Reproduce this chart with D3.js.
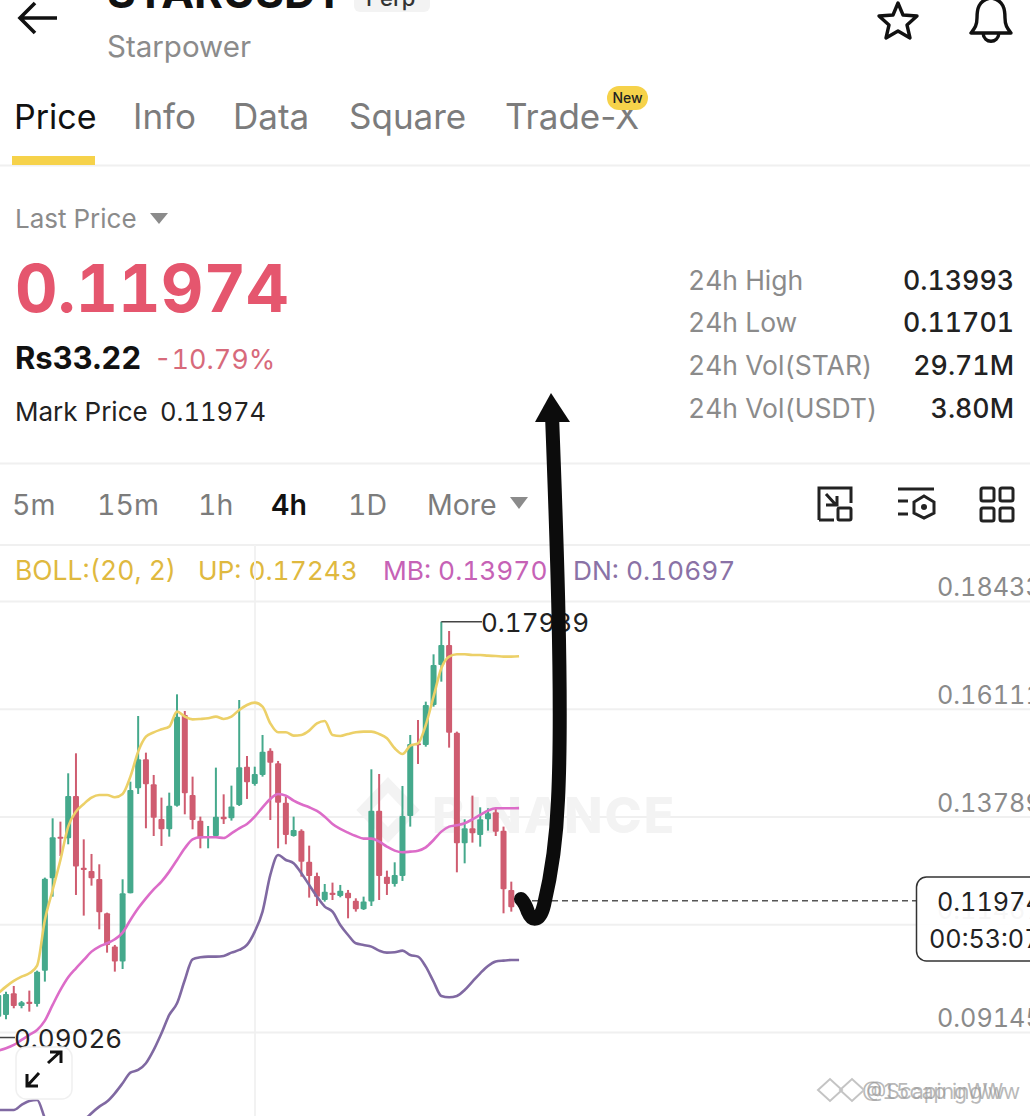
<!DOCTYPE html>
<html>
<head>
<meta charset="utf-8">
<script src="https://cdn.jsdelivr.net/npm/d3@7"></script>
<style>
html, body { margin: 0; padding: 0; background: #fff; overflow: hidden; }
svg { display: block; font-family: Inter, "Open Sans", sans-serif; font-feature-settings: "tnum" 1; font-variant-numeric: tabular-nums; }
</style>
</head>
<body>
<div id="main"></div>
<script>
// 4h candles, first entry is the one cut off by the left edge
var opens = [.09476,.09512,.09979,.09706,.09799,.09749,.10467,.12457,.13355,.13319,.14231,.12687,.12615,.12443,.11703,.10985,.10662,.12134,.14397,.15021,.14483,.13736,.13513,.14023,.15977,.14253,.13700,.13341,.13369,.13786,.13750,.14037,.14863,.14490,.14684,.15208,.14935,.14088,.13369,.13484,.12816,.12507,.11990,.12148,.12077,.12148,.11976,.11789,.11955,.13915,.12493,.12335,.12507,.13800,.15366,.15330,.16192,.17054,.17485,.15596,.13211,.13535,.13391,.13729,.13879,.13484,.12206];
var closes = [.09943,.09965,.09706,.09785,.09749,.10446,.12450,.13341,.13312,.14231,.12709,.12637,.12457,.11725,.11021,.10662,.12134,.14361,.15021,.14483,.13764,.13513,.14023,.15941,.14289,.13714,.13319,.13369,.13786,.13729,.14002,.14849,.14526,.14705,.15187,.14950,.14088,.13391,.13499,.12816,.12507,.12062,.12170,.12098,.12191,.12026,.11789,.11955,.13915,.12507,.12335,.12529,.13800,.15352,.15330,.16192,.17054,.17485,.15596,.13211,.13535,.13427,.13729,.13858,.13463,.12220,.11833];
var highs = [.10051,.10015,.10137,.09814,.10037,.10467,.12472,.13750,.13678,.14720,.15151,.13297,.12982,.12759,.11717,.11021,.12436,.14540,.15955,.15165,.14684,.14196,.14303,.16422,.16063,.14648,.13786,.13585,.14842,.14267,.14454,.16300,.15093,.14863,.15546,.15259,.14986,.14217,.13786,.13513,.13161,.12579,.12335,.12364,.12314,.12206,.12026,.12062,.14806,.14705,.12622,.12802,.14447,.15546,.15869,.16264,.17284,.17988,.17787,.15618,.13729,.14239,.13987,.13966,.13966,.13571,.12385];
var lows = [.09390,.09419,.09656,.09656,.09584,.09692,.10231,.12062,.12938,.13190,.12098,.11653,.12299,.11358,.10855,.10446,.10503,.12134,.14275,.13535,.13369,.13154,.13355,.14002,.13836,.13513,.13104,.13104,.13341,.13628,.13700,.14016,.14167,.14454,.14648,.13714,.13104,.13190,.13355,.12493,.12041,.11861,.11955,.11990,.12048,.11595,.11739,.11775,.11861,.11990,.12098,.12278,.12400,.13571,.14921,.15294,.16156,.16695,.15273,.12586,.12780,.13226,.13139,.13484,.13369,.11703,.11739];

// bollinger bands, one point more than the candles (runs on past the last candle)
var bollUp = [.09979,.10123,.10245,.10338,.10410,.10575,.11559,.12206,.12852,.13571,.13894,.14059,.14196,.14253,.14253,.14203,.14275,.14648,.15187,.15510,.15603,.15668,.15725,.16049,.15941,.15883,.15891,.15905,.15941,.15891,.15941,.16085,.16192,.16243,.16156,.15797,.15603,.15603,.15532,.15546,.15639,.15797,.15847,.15546,.15524,.15567,.15603,.15618,.15618,.15567,.15474,.15259,.15136,.15316,.15366,.15761,.16372,.16982,.17234,.17284,.17284,.17270,.17270,.17255,.17248,.17234,.17234,.17243];
var bollMid = [.08744,.08794,.08866,.08974,.09081,.09189,.09390,.09728,.10051,.10324,.10518,.10697,.10877,.10985,.11057,.11143,.11286,.11559,.11811,.12026,.12220,.12385,.12601,.12852,.13104,.13297,.13341,.13341,.13341,.13326,.13427,.13535,.13628,.13786,.13987,.14167,.14275,.14239,.14131,.14052,.13987,.13908,.13786,.13628,.13520,.13441,.13369,.13312,.13312,.13247,.13139,.13053,.13017,.13032,.13053,.13125,.13283,.13463,.13571,.13599,.13642,.13729,.13822,.13915,.13966,.13966,.13966,.13970];
var bollDn = [.07465,.07465,.07465,.07573,.07659,.07681,.07285,.06890,.06675,.06603,.06819,.07214,.07393,.07537,.07645,.07824,.08040,.08270,.08327,.08471,.08758,.09117,.09512,.09764,.10266,.10712,.10755,.10769,.10769,.10784,.10855,.10913,.11021,.11308,.11739,.12529,.12960,.12852,.12780,.12565,.12314,.12062,.11847,.11739,.11452,.11236,.11057,.11021,.10985,.10899,.10855,.10863,.10899,.10805,.10769,.10554,.10231,.09922,.09893,.09922,.10051,.10231,.10410,.10568,.10662,.10683,.10697,.10697];

var priceTicks = [0.18433, 0.16111, 0.13789, 0.11467, 0.09145, 0.06823];
var lastPrice = 0.11974;
var lowMark = 0.09026;

var tabs = [["Price", 14], ["Info", 133], ["Data", 233], ["Square", 349], ["Trade-X", 505]];
var intervals = [["5m", 12], ["15m", 97], ["1h", 198], ["4h", 271], ["1D", 348], ["More", 427]];
var statLabels = ["24h High", "24h Low", "24h Vol(STAR)", "24h Vol(USDT)"];
var statValues = ["0.13993", "0.11701", "29.71M", "3.80M"];
var statRows = [290, 332, 375, 418];

var GREEN = "#45a98c", RED = "#cf5c70", GREY = "#8b8b8b";

var svg = d3.select("#main")
    .append("svg")
    .attr("width", 1030)
    .attr("height", 1116);

var x = d3.scaleLinear().domain([0, 65]).range([6, 511.3]);
var y = d3.scaleLinear().domain([0.18433, 0.09145]).range([601, 1032]);

function label(text, px, py, size, fill, weight, anchor) {
    return svg.append("text")
        .attr("x", px).attr("y", py)
        .attr("font-size", size)
        .attr("fill", fill)
        .attr("font-weight", weight || 400)
        .attr("text-anchor", anchor || "start")
        .text(text);
}

function rule(x1, x2, py) {
    svg.append("line").attr("x1", x1).attr("x2", x2).attr("y1", py).attr("y2", py)
        .attr("stroke", "#f0f0f0").attr("stroke-width", 2);
}

//////////////////////////////////////////////////////////////////////////////
// header

label("STARUSDT", 107, 8, 44, "#111", 700);
svg.append("rect").attr("x", 354).attr("y", -20).attr("width", 76).attr("height", 32).attr("rx", 6).attr("fill", "#f3f3f3");
label("Perp", 366, 6, 22, "#333", 500);
label("Starpower", 107, 57, 29.5, GREY);

svg.append("path")
    .attr("d", "M 57 18 L 21 18 M 35 3 L 20 18 L 35 33")
    .attr("fill", "none").attr("stroke", "#111").attr("stroke-width", 3.6);
svg.append("path")
    .attr("d", "M 898 3 L 903 15 L 917 16 L 907 25 L 910 38 L 898 31 L 886 38 L 889 25 L 879 16 L 893 15 Z")
    .attr("fill", "none").attr("stroke", "#111").attr("stroke-width", 3.4).attr("stroke-linejoin", "round");
svg.append("path")
    .attr("d", "M 991 -2 C 978 0 977 10 977 18 C 977 25 975 28 971 33 L 1011 33 C 1007 28 1005 25 1005 18 C 1005 10 1004 0 991 -2 Z M 983 33 C 984 44 998 44 999 33")
    .attr("fill", "none").attr("stroke", "#111").attr("stroke-width", 3.4).attr("stroke-linejoin", "round");

tabs.forEach(function(t, i) {
    label(t[0], t[1], 129, i === 0 ? 34 : 35, i === 0 ? "#111" : "#7c7c7c", 400)
        .style("font-feature-settings", "normal")
        .style("font-variant-numeric", "normal");
});
svg.append("rect").attr("x", 607).attr("y", 86).attr("width", 41).attr("height", 24).attr("rx", 12).attr("fill", "#f6d24a");
label("New", 627.5, 103, 14, "#222", 500, "middle");

rule(0, 1030, 165.5);
svg.append("rect").attr("x", 12).attr("y", 156).attr("width", 83).attr("height", 9).attr("fill", "#f6d24a");

//////////////////////////////////////////////////////////////////////////////
// price block

label("Last Price", 15, 228, 26, GREY);
svg.append("path").attr("d", "M 150 213 L 168 213 L 159 224 Z").attr("fill", GREY);
label("0.11974", 15, 312, 66, "#e5566e", 700);
label("Rs33.22", 15, 369, 31, "#111", 700);
label("-10.79%", 154, 369, 27, "#d76a7b", 400);
label("Mark Price", 15, 421, 26, "#222");
label("0.11974", 160, 421, 25.5, "#222");

statLabels.forEach(function(s, i) {
    label(s, 688, statRows[i], 26.5, GREY);
    label(statValues[i], 1014, statRows[i], 26.7, "#222", 500, "end");
});

rule(0, 1030, 463.5);

//////////////////////////////////////////////////////////////////////////////
// interval row

intervals.forEach(function(t) {
    var active = t[0] === "4h";
    label(t[0], t[1], 515, 28.5, active ? "#111" : "#7c7c7c", active ? 600 : 400);
});
svg.append("path").attr("d", "M 510 497 L 528 497 L 519 509 Z").attr("fill", GREY);

var iconStyle = function(sel) {
    sel.attr("fill", "none").attr("stroke", "#222").attr("stroke-width", 3);
};
svg.append("path")
    .attr("d", "M 819 520 L 819 488 L 851 488 L 851 503 M 834 520 L 819 520 M 826 494 L 836 505 M 826 505 L 837 505 L 837 496")
    .call(iconStyle);
svg.append("rect").attr("x", 838).attr("y", 508).attr("width", 13).attr("height", 12).attr("rx", 1.5).call(iconStyle);
svg.append("path")
    .attr("d", "M 898 489 L 934 489 M 898 501 L 908 501 M 898 514 L 908 514 M 924 496 L 934 502 L 934 513 L 924 518 L 914 513 L 914 502 Z")
    .call(iconStyle);
svg.append("circle").attr("cx", 924).attr("cy", 507).attr("r", 3).attr("fill", "#222");
[[981, 488], [1000, 488], [981, 508], [1000, 508]].forEach(function(p) {
    svg.append("rect").attr("x", p[0]).attr("y", p[1]).attr("width", 13).attr("height", 13).attr("rx", 2).call(iconStyle);
});

rule(0, 1030, 545);

label("BOLL:(20, 2)", 15, 580, 26.5, "#dfb93f");
label("UP: 0.17243", 198, 580, 26.3, "#dfb93f");
label("MB: 0.13970", 383, 580, 26.3, "#c662b6");
label("DN: 0.10697", 573, 580, 26.3, "#8a72a6");

//////////////////////////////////////////////////////////////////////////////
// chart

svg.append("line").attr("x1", 255).attr("x2", 255).attr("y1", 545).attr("y2", 1116)
    .attr("stroke", "#f2f2f2").attr("stroke-width", 2);

var axis = svg.append("g")
    .call(d3.axisRight(y).tickValues(priceTicks).tickSize(1030).tickFormat(d3.format(".5f")));
axis.select(".domain").remove();
axis.selectAll("line").attr("stroke", "#f0f0f0").attr("stroke-width", 2);
axis.selectAll("text")
    .attr("x", 937).attr("dy", "-5.5")
    .attr("text-anchor", "start")
    .attr("font-family", "Inter")
    .attr("font-size", 25.2)
    .attr("fill", "#8a8a8a");

// faint watermark behind the candles
svg.append("text").attr("x", 432).attr("y", 833).attr("font-size", 50).attr("font-weight", 800)
    .attr("letter-spacing", 2).attr("fill", "#f3f3f3").text("BINANCE");
svg.append("path")
    .attr("d", "M 388 785 L 412 810 L 388 835 L 364 810 Z")
    .attr("fill", "none").attr("stroke", "#f3f3f3").attr("stroke-width", 11);

var candles = svg.append("g")
    .selectAll("g")
    .data(d3.range(opens.length))
    .enter()
    .append("g")
    .attr("fill", function(i) { return closes[i] >= opens[i] ? GREEN : RED; })
    .attr("stroke", function(i) { return closes[i] >= opens[i] ? GREEN : RED; });
candles.append("line")
    .attr("x1", function(i) { return x(i - 1); })
    .attr("x2", function(i) { return x(i - 1); })
    .attr("y1", function(i) { return y(highs[i]); })
    .attr("y2", function(i) { return y(lows[i]); })
    .attr("stroke-width", 2);
candles.append("rect")
    .attr("x", function(i) { return x(i - 1) - 3; })
    .attr("width", 6)
    .attr("y", function(i) { return y(Math.max(opens[i], closes[i])); })
    .attr("height", function(i) { return Math.max(2, Math.abs(y(opens[i]) - y(closes[i]))); })
    .attr("rx", 1)
    .attr("stroke", "none");

var bandLine = d3.line()
    .x(function(d, i) { return x(i - 1); })
    .y(function(d) { return y(d); })
    .curve(d3.curveMonotoneX);

[[bollUp, "#ecd068"], [bollMid, "#dc6cc8"], [bollDn, "#8069a2"]].forEach(function(band) {
    svg.append("path")
        .attr("d", bandLine(band[0]))
        .attr("fill", "none")
        .attr("stroke", band[1])
        .attr("stroke-width", 2.6);
});

// high and low markers
var highIndex = d3.range(highs.length).find(function(i) { return highs[i] === d3.max(highs); });
svg.append("line")
    .attr("x1", x(highIndex - 1)).attr("x2", 482)
    .attr("y1", y(highs[highIndex])).attr("y2", y(highs[highIndex]))
    .attr("stroke", "#444").attr("stroke-width", 1.5);
label("0.17939", 481, y(highs[highIndex]) + 10, 26, "#222");
svg.append("line").attr("x1", 0).attr("x2", 15).attr("y1", y(lowMark)).attr("y2", y(lowMark))
    .attr("stroke", "#444").attr("stroke-width", 1.5);
label("0.09026", 14, y(lowMark) + 10, 26, "#222");

// expand button
svg.append("rect").attr("x", 16).attr("y", 1047).attr("width", 56).attr("height", 52).attr("rx", 10)
    .attr("fill", "#fff").attr("fill-opacity", 0.8).attr("stroke", "#f0f0f0").attr("stroke-width", 1.5);
svg.append("path")
    .attr("d", "M 48 1063 L 60 1052 M 50 1052 L 61 1052 L 61 1063 M 39 1073 L 28 1085 M 27 1074 L 27 1086 L 38 1086")
    .attr("fill", "none").attr("stroke", "#111").attr("stroke-width", 3);

// last price line and box
svg.append("line")
    .attr("x1", 532).attr("x2", 916)
    .attr("y1", y(lastPrice)).attr("y2", y(lastPrice))
    .attr("stroke", "#555").attr("stroke-width", 1.5).attr("stroke-dasharray", "6 4");
svg.append("rect").attr("x", 916.5).attr("y", 877).attr("width", 130).attr("height", 84).attr("rx", 10)
    .attr("fill", "#fff").attr("fill-opacity", 0.93).attr("stroke", "#333").attr("stroke-width", 1.5);
label("0.11974", 937, 911, 25.2, "#222");
label("00:53:07", 929, 948, 25.2, "#222");

// hand drawn arrow on top of the screenshot
svg.append("path")
    .attr("d", "M 552 415 C 556 520 563 700 558 800 C 556 850 550 880 544 905 C 540 922 532 922 528 912 C 526 906 524 902 521 899")
    .attr("fill", "none").attr("stroke", "#0c0c0c").attr("stroke-width", 14)
    .attr("stroke-linecap", "round");
svg.append("path").attr("d", "M 551 393 L 570 422 L 535 422 Z").attr("fill", "#0c0c0c");

// site stamp, two copies over each other
[[0, "@ScapingWw"], [-4, "@15cap ingWw"]].forEach(function(s) {
    svg.append("text").attr("x", 866 + s[0]).attr("y", 1099).attr("font-size", 21)
        .attr("fill", "#9a9a9a").attr("fill-opacity", 0.7).text(s[1]);
});
[[830, 1090], [852, 1090]].forEach(function(p) {
    svg.append("path")
        .attr("d", "M " + (p[0] - 12) + " " + p[1] + " L " + p[0] + " " + (p[1] - 11) + " L " + (p[0] + 12) + " " + p[1] + " L " + p[0] + " " + (p[1] + 11) + " Z")
        .attr("fill", "none").attr("stroke", "#c4c4c4").attr("stroke-width", 2);
});
</script>
</body>
</html>
